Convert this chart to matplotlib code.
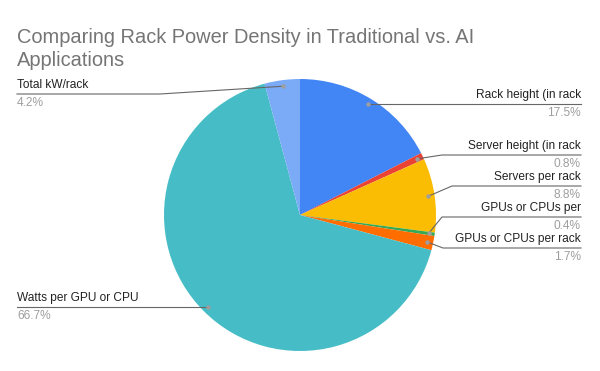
import matplotlib
matplotlib.use("Agg")
import matplotlib.pyplot as plt
import numpy as np

labels = ["Rack height (in rack", "Server height (in rack", "Servers per rack",
          "GPUs or CPUs per", "GPUs or CPUs per rack", "Watts per GPU or CPU",
          "Total kW/rack"]
shares = [17.5, 0.8, 8.8, 0.4, 1.7, 66.7, 4.2]
pct_text = ["17.5%", "0.8%", "8.8%", "0.4%", "1.7%", "66.7%", "4.2%"]
colors = ["#4285F4", "#EA4335", "#FBBC04", "#34A853", "#FF6D01", "#46BDC6", "#7BAAF7"]
title = "Comparing Rack Power Density in Traditional vs. AI\nApplications"

W, H = 600, 371
plt.rcParams['font.family'] = ['Liberation Sans', 'DejaVu Sans']
fig = plt.figure(figsize=(W / 100, H / 100), dpi=100)
ax = fig.add_axes([0, 0, 1, 1])

def Y(y):
    return H - y

cx, cy, R = 300, Y(215), 136
wedges, _ = ax.pie(shares, colors=colors, startangle=90, counterclock=False,
                   center=(cx, cy), radius=R, wedgeprops=dict(linewidth=0),
                   frame=True)
ax.set_xlim(0, W)
ax.set_ylim(0, H)
ax.set_aspect('equal')
ax.axis('off')

# label layout: (side, line_y_px, elbow_x_px)
layout = [
    ("R", 104, None),
    ("R", 155, 442),
    ("R", 186, 452),
    ("R", 217, 442),
    ("R", 248, 443),
    ("L", 306, None),
    ("L", 94, 160),
]
line_col = "#666666"
fs = 8.6
for w, lab, pct, (side, ly, ex) in zip(wedges, labels, pct_text, layout):
    mid = np.deg2rad((w.theta1 + w.theta2) / 2)
    dx = cx + 0.955 * R * np.cos(mid)
    dy = cy + 0.955 * R * np.sin(mid)
    ax.plot([dx], [dy], 'o', ms=3.2, color="#9e9e9e", mec="none", zorder=5)
    if side == "R":
        xe = 581
        if ex is None:
            ax.plot([dx, xe], [dy, dy], color=line_col, lw=0.8, zorder=4)
            lyy = dy
        else:
            lyy = Y(ly)
            ax.plot([dx, ex, xe], [dy, lyy, lyy], color=line_col, lw=0.8, zorder=4)
        ax.text(xe, lyy + 3, lab, ha='right', va='bottom', fontsize=fs, color="#222222")
        ax.text(xe, lyy - 3, pct, ha='right', va='top', fontsize=fs, color="#9e9e9e")
    else:
        xs = 17
        if ex is None:
            ax.plot([xs, dx], [dy, dy], color=line_col, lw=0.8, zorder=4)
            lyy = dy
        else:
            lyy = Y(ly)
            ax.plot([xs, ex, dx], [lyy, lyy, dy], color=line_col, lw=0.8, zorder=4)
        ax.text(xs, lyy + 3, lab, ha='left', va='bottom', fontsize=fs, color="#222222")
        ax.text(xs, lyy - 3, pct, ha='left', va='top', fontsize=fs, color="#9e9e9e")

ax.text(17, Y(28), title, ha='left', va='top', fontsize=14.4, color="#757575",
        linespacing=1.3)

fig.savefig("out.png", dpi=100)
